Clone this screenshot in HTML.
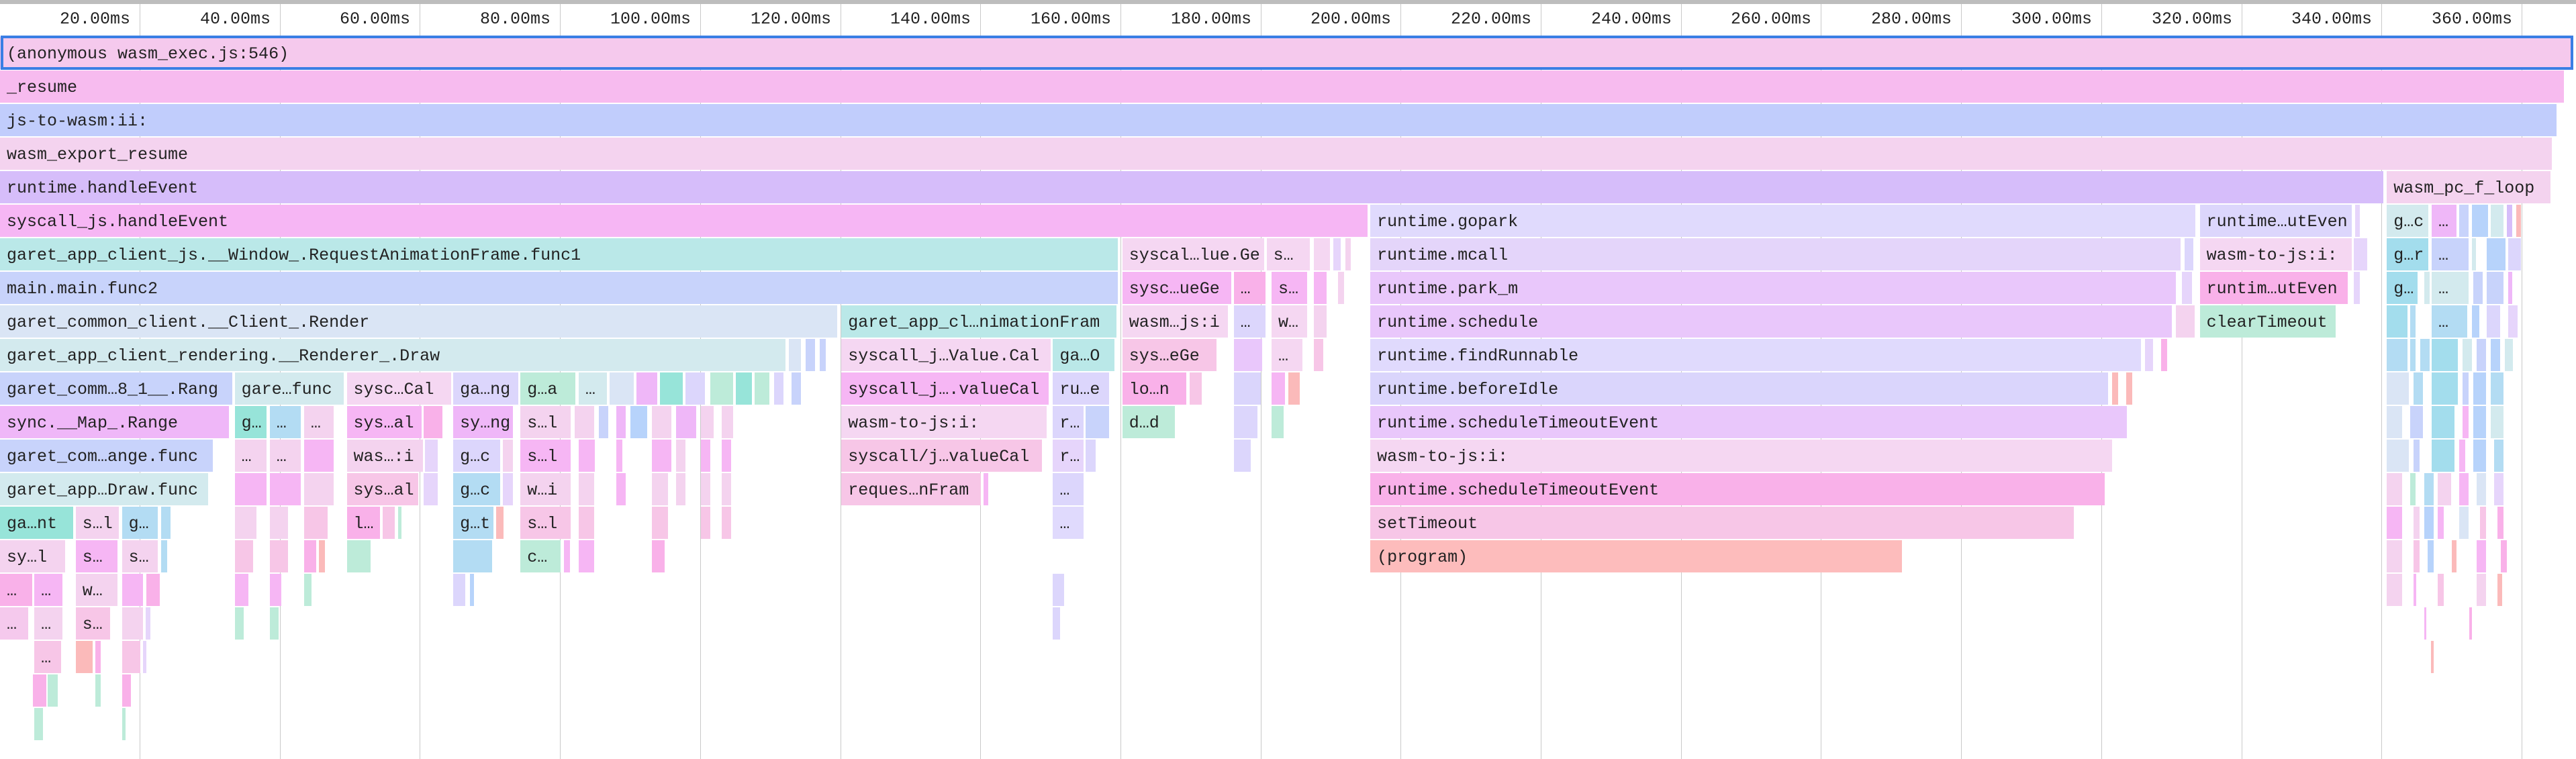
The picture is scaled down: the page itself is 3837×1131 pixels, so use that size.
<!DOCTYPE html>
<html><head><meta charset="utf-8">
<style>
html,body{margin:0;padding:0;background:#fff;}
#root{position:relative;width:3837px;height:1131px;overflow:hidden;background:#fff;font-family:"Liberation Mono","DejaVu Sans Mono",monospace;}
.topbar{position:absolute;left:0;top:0;width:3837px;height:6px;background:#bdbdbd;}
.tick{position:absolute;top:6px;width:1px;height:1125px;background:#c9c9c9;}
.tlabel{position:absolute;top:14px;height:30px;font-size:25px;line-height:30px;color:#222;text-align:right;width:200px;}
.fr{position:absolute;height:48px;overflow:hidden;white-space:nowrap;font-size:25px;line-height:52px;color:#222;box-sizing:border-box;padding-left:10px;}
.sel{position:absolute;border:4px solid #3a7ee4;box-sizing:border-box;}
</style></head>
<body>
<div id="root">
<div class="topbar"></div>
<div id="ticks"></div>
<div id="frames"></div>
</div>
<script>
const tickValues = [20,40,60,80,100,120,140,160,180,200,220,240,260,280,300,320,340,360];
const tickLabels = ["20.00ms","40.00ms","60.00ms","80.00ms","100.00ms","120.00ms","140.00ms","160.00ms","180.00ms","200.00ms","220.00ms","240.00ms","260.00ms","280.00ms","300.00ms","320.00ms","340.00ms","360.00ms"];
const palette = {a:"#f5c9ed",p:"#f7bbef",b:"#c1cdfc",w:"#f4d3ef",v:"#d6bdfa",m:"#f6b6f4",t:"#bae8e8",c:"#c8d3fb",r:"#dae5f5",d:"#d3eaee",g:"#97e4d9",h:"#bdebd9",s:"#fbbaba",l:"#dcd6fc",k:"#e6d5fb",e:"#e9c7fb",q:"#b3dcf3",o:"#f9b1e9",n:"#efb7f8",f:"#e0dafd",i:"#dad5fc",u:"#f7c6e7",x:"#fdbcbc",y:"#f5d7f2",z:"#e4d5fa",j:"#a3dded",B:"#b7d3fb"};
// [depth, startMs, endMs, label, colorKey]
const frames = [
[0,0,367.2,"(anonymous wasm_exec.js:546)","a"],
[1,0,366.1,"_resume","p"],
[2,0,365.1,"js-to-wasm:ii:","b"],
[3,0,364.4,"wasm_export_resume","w"],
[4,0,340.3,"runtime.handleEvent","v"],[4,340.7,364.2,"wasm_pc_f_loop","w"],
[5,0,195.3,"syscall_js.handleEvent","m"],[5,195.6,313.5,"runtime.gopark","f"],[5,314.0,335.8,"runtime…utEven","l"],[5,336.2,337.0,"","k"],[5,340.7,346.8,"g…c","d"],[5,347.1,350.8,"…","n"],[5,351.0,352.5,"","c"],[5,352.8,355.3,"","B"],[5,355.5,357.5,"","d"],[5,357.8,358.8,"","v"],[5,359.2,360.0,"","s"],
[6,0,159.7,"garet_app_client_js.__Window_.RequestAnimationFrame.func1","t"],[6,160.2,180.6,"syscal…lue.Ge","y"],[6,180.8,187.1,"s…","y"],[6,187.5,190.0,"","y"],[6,190.3,191.5,"","k"],[6,192.0,193.0,"","w"],[6,195.6,311.4,"runtime.mcall","z"],[6,311.8,313.2,"","l"],[6,314.0,335.8,"wasm-to-js:i:","y"],[6,336.0,338.0,"","k"],[6,340.7,346.8,"g…r","j"],[6,347.1,352.5,"…","c"],[6,352.8,353.6,"","d"],[6,355.0,357.8,"","B"],[6,358.0,360.0,"","l"],
[7,0,159.7,"main.main.func2","c"],[7,160.2,175.9,"sysc…ueGe","m"],[7,176.1,180.8,"…","o"],[7,181.5,186.7,"s…","m"],[7,187.5,189.5,"","m"],[7,191.0,192.0,"","w"],[7,195.6,310.7,"runtime.park_m","e"],[7,311.4,313.0,"","k"],[7,314.0,335.3,"runtim…utEven","o"],[7,336.0,337.0,"","k"],[7,340.7,345.2,"g…","j"],[7,346.0,347.0,"","d"],[7,347.1,352.5,"…","d"],[7,353.0,354.5,"","c"],[7,355.0,357.5,"","c"],[7,358.0,358.8,"","n"],
[8,0,119.6,"garet_common_client.__Client_.Render","r"],[8,120.1,159.5,"garet_app_cl…nimationFram","t"],[8,160.2,175.4,"wasm…js:i","y"],[8,176.1,180.8,"…","l"],[8,181.5,186.7,"w…","y"],[8,187.5,189.5,"","w"],[8,195.6,310.2,"runtime.schedule","e"],[8,310.6,313.4,"","w"],[8,314.0,333.5,"clearTimeout","h"],[8,340.7,343.8,"","j"],[8,344.0,345.0,"","q"],[8,347.1,352.3,"…","q"],[8,352.8,354.0,"","B"],[8,355.0,357.0,"","l"],[8,358.0,359.5,"","k"],
[9,0,112.3,"garet_app_client_rendering.__Renderer_.Draw","d"],[9,112.6,114.5,"","r"],[9,115.0,116.5,"","c"],[9,117.0,118.0,"","c"],[9,120.1,150.1,"syscall_j…Value.Cal","y"],[9,150.3,159.2,"ga…O","t"],[9,160.2,173.8,"sys…eGe","u"],[9,176.1,180.3,"","e"],[9,181.5,186.0,"…","y"],[9,187.5,189.0,"","u"],[9,195.6,305.8,"runtime.findRunnable","f"],[9,306.2,307.5,"","k"],[9,308.5,309.5,"","o"],[9,340.7,343.8,"","q"],[9,344.0,345.0,"","q"],[9,345.5,347.0,"","q"],[9,347.1,351.0,"","j"],[9,351.5,353.0,"","d"],[9,353.5,355.0,"","c"],[9,355.5,357.0,"","B"],[9,357.5,358.8,"","d"],
[10,0,33.3,"garet_comm…8_1__.Rang","c"],[10,33.5,49.2,"gare…func","d"],[10,49.5,64.5,"sysc…Cal","y"],[10,64.7,74.1,"ga…ng","l"],[10,74.3,82.3,"g…a","h"],[10,82.6,86.8,"…","d"],[10,87.0,90.6,"","r"],[10,90.8,94.0,"","n"],[10,94.2,97.6,"","g"],[10,97.8,100.8,"","l"],[10,101.4,104.8,"","h"],[10,105.0,107.5,"","g"],[10,107.7,110.0,"","h"],[10,110.5,112.0,"","l"],[10,113.0,114.5,"","c"],[10,120.1,149.8,"syscall_j….valueCal","m"],[10,150.3,158.5,"ru…e","l"],[10,160.2,169.5,"lo…n","o"],[10,169.8,171.7,"","u"],[10,176.1,180.1,"","i"],[10,181.5,183.6,"","m"],[10,183.9,185.7,"","s"],[10,195.6,301.1,"runtime.beforeIdle","i"],[10,301.5,302.5,"","s"],[10,303.5,304.5,"","s"],[10,340.7,344.0,"","r"],[10,344.5,346.0,"","q"],[10,347.1,351.0,"","j"],[10,351.5,352.5,"","c"],[10,353.0,355.0,"","B"],[10,355.5,357.5,"","q"],
[11,0,32.8,"sync.__Map_.Range","n"],[11,33.5,38.2,"g…","g"],[11,38.5,43.1,"…","q"],[11,43.4,47.8,"…","w"],[11,49.5,60.3,"sys…al","m"],[11,60.5,63.3,"","o"],[11,64.7,73.4,"sy…ng","n"],[11,74.3,81.6,"s…l","w"],[11,82.0,85.0,"","w"],[11,85.5,87.0,"","c"],[11,88.0,89.5,"","n"],[11,90.0,92.5,"","B"],[11,93.0,96.0,"","w"],[11,96.5,99.5,"","n"],[11,100.0,102.0,"","w"],[11,103.0,104.8,"","w"],[11,120.1,149.6,"wasm-to-js:i:","y"],[11,150.3,154.8,"r…","l"],[11,155.0,158.5,"","c"],[11,160.2,167.9,"d…d","h"],[11,176.1,179.6,"","l"],[11,181.5,183.4,"","h"],[11,195.6,303.7,"runtime.scheduleTimeoutEvent","e"],[11,340.7,343.0,"","r"],[11,344.0,346.0,"","c"],[11,347.1,350.5,"","j"],[11,351.5,352.5,"","m"],[11,353.0,355.0,"","B"],[11,355.5,357.5,"","d"],
[12,0,30.5,"garet_com…ange.func","c"],[12,33.5,38.2,"…","w"],[12,38.5,43.1,"…","w"],[12,43.4,47.8,"","m"],[12,49.5,60.5,"was…:i","w"],[12,60.7,62.6,"","k"],[12,64.7,71.5,"g…c","l"],[12,71.8,73.4,"","w"],[12,74.3,81.6,"s…l","m"],[12,82.6,85.1,"","m"],[12,88.0,89.0,"","m"],[12,93.0,96.0,"","m"],[12,96.5,98.0,"","w"],[12,100.0,101.5,"","m"],[12,103.0,104.5,"","m"],[12,120.1,148.9,"syscall/j…valueCal","u"],[12,150.3,154.8,"r…","k"],[12,155.0,156.5,"","l"],[12,176.1,178.7,"","l"],[12,195.6,301.6,"wasm-to-js:i:","y"],[12,340.7,344.0,"","r"],[12,344.5,345.5,"","c"],[12,347.1,350.5,"","j"],[12,351.0,352.0,"","m"],[12,353.0,355.0,"","B"],[12,356.0,357.5,"","q"],
[13,0,29.8,"garet_app…Draw.func","d"],[13,33.5,38.2,"","m"],[13,38.5,43.1,"","m"],[13,43.4,47.8,"","w"],[13,49.5,59.8,"sys…al","u"],[13,60.5,62.6,"","k"],[13,64.7,71.5,"g…c","q"],[13,71.8,73.4,"","k"],[13,74.3,81.6,"w…i","w"],[13,82.6,85.0,"","w"],[13,88.0,89.5,"","m"],[13,93.0,95.5,"","w"],[13,96.5,98.0,"","w"],[13,100.0,101.5,"","w"],[13,103.0,104.5,"","w"],[13,120.1,140.2,"reques…nFram","u"],[13,140.4,141.2,"","m"],[13,150.3,154.8,"…","l"],[13,195.6,300.6,"runtime.scheduleTimeoutEvent","o"],[13,340.7,343.0,"","w"],[13,344.0,345.0,"","h"],[13,346.0,347.5,"","q"],[13,348.0,350.0,"","w"],[13,351.0,352.5,"","m"],[13,353.5,355.0,"","r"],[13,356.0,357.5,"","k"],
[14,0,10.6,"ga…nt","g"],[14,10.8,17.1,"s…l","w"],[14,17.4,22.7,"g…","q"],[14,23.0,24.5,"","q"],[14,33.5,36.8,"","w"],[14,38.5,41.3,"","w"],[14,43.4,46.9,"","u"],[14,49.5,54.4,"l…","o"],[14,54.6,56.5,"","u"],[14,56.8,57.5,"","h"],[14,64.7,70.6,"g…t","q"],[14,70.8,72.0,"","s"],[14,74.3,81.6,"s…l","u"],[14,82.6,85.0,"","u"],[14,93.0,95.5,"","u"],[14,100.0,101.5,"","u"],[14,103.0,104.5,"","u"],[14,150.3,154.8,"…","f"],[14,195.6,296.2,"setTimeout","u"],[14,340.7,343.0,"","m"],[14,344.5,345.5,"","w"],[14,346.0,347.5,"","B"],[14,348.0,349.0,"","m"],[14,351.0,352.5,"","r"],[14,354.0,355.0,"","u"],[14,356.5,357.5,"","o"],
[15,0,9.4,"sy…l","w"],[15,10.8,16.9,"s…","m"],[15,17.4,22.7,"s…","w"],[15,23.0,24.0,"","q"],[15,33.5,36.3,"","u"],[15,38.5,41.3,"","u"],[15,43.4,45.3,"","o"],[15,45.5,46.5,"","s"],[15,49.5,53.0,"","h"],[15,64.7,70.4,"","q"],[15,74.3,80.2,"c…","h"],[15,80.5,81.5,"","m"],[15,82.6,85.0,"","m"],[15,93.0,95.0,"","o"],[15,195.6,271.6,"(program)","x"],[15,340.7,343.0,"","w"],[15,344.5,345.5,"","u"],[15,346.5,347.5,"","B"],[15,350.0,350.8,"","s"],[15,353.5,355.0,"","m"],[15,357.0,358.0,"","o"],
[16,0,4.7,"…","o"],[16,4.9,9.1,"…","m"],[16,10.8,16.9,"w…","w"],[16,17.4,20.6,"","m"],[16,20.9,23.0,"","o"],[16,33.5,35.6,"","m"],[16,38.5,40.3,"","m"],[16,43.4,44.6,"","h"],[16,64.7,66.6,"","l"],[16,67.1,67.8,"","B"],[16,150.3,152.0,"","l"],[16,340.7,343.0,"","w"],[16,344.5,345.0,"","m"],[16,348.0,349.0,"","u"],[16,353.5,355.0,"","w"],[16,356.5,357.3,"","s"],
[17,0,4.2,"…","a"],[17,4.9,9.1,"…","w"],[17,10.8,15.9,"s…","u"],[17,17.4,20.6,"","w"],[17,20.8,21.6,"","k"],[17,33.5,34.9,"","h"],[17,38.5,39.9,"","h"],[17,150.3,151.5,"","l"],[17,346.0,346.5,"","m"],[17,352.5,353.0,"","o"],
[18,4.9,8.9,"…","u"],[18,10.8,13.4,"","s"],[18,13.6,14.5,"","o"],[18,17.4,20.2,"","u"],[18,20.4,21.0,"","k"],[18,347.0,347.5,"","s"],
[19,4.7,6.8,"","o"],[19,6.8,8.4,"","h"],[19,13.6,14.5,"","h"],[19,17.4,18.8,"","o"],
[20,4.9,6.3,"","h"],[20,17.4,18.1,"","h"]
];
const xScale = ms => ms * 10.435 - 0.7;
const rowTop = d => 55 + 50 * d;

const ticksEl = document.getElementById('ticks');
tickValues.forEach((v, i) => {
  const x = xScale(v);
  const line = document.createElement('div');
  line.className = 'tick';
  line.style.left = Math.round(x) + 'px';
  
  
  ticksEl.appendChild(line);
  const lab = document.createElement('div');
  lab.className = 'tlabel';
  lab.style.left = Math.round(x - 214) + 'px';
  lab.textContent = tickLabels[i];
  
  
  ticksEl.appendChild(lab);
});

const framesEl = document.getElementById('frames');
frames.forEach(f => {
  const [d, s, e, label, ck] = f;
  const el = document.createElement('div');
  el.className = 'fr';
  const x0 = xScale(s) + 0.7, x1 = xScale(e) + 0.7;
  el.style.left = x0.toFixed(1) + 'px';
  el.style.width = Math.max(1.5, x1 - x0 - 1.5).toFixed(1) + 'px';
  el.style.top = rowTop(d) + 'px';
  el.style.background = palette[ck];
  if (x1 - x0 < 30) el.style.paddingLeft = '0px';
  el.textContent = label;
  
  
  framesEl.appendChild(el);
});
const sel = document.createElement('div');
sel.className = 'sel';
sel.style.left = '1px';
sel.style.top = '53px';
sel.style.width = (xScale(frames[0][2]) + 0.7) + 'px';
sel.style.height = '51px';


framesEl.appendChild(sel);
</script>
</body></html>
